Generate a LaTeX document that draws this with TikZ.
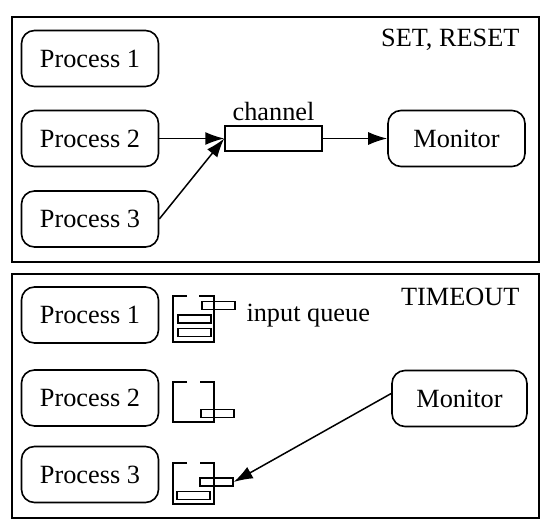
\documentclass[tikz,border=0pt]{standalone}
\usepackage{fontspec}
\setmainfont{Liberation Serif}
\usetikzlibrary{positioning,arrows.meta}

\tikzset{
  proc/.style={draw,line width=1.6pt,rounded corners=13pt,minimum width=137pt,minimum height=56pt,inner sep=0pt},
  qitem/.style={draw,line width=1.5pt,minimum width=33pt,minimum height=8pt,inner sep=0pt},
  flow/.style={line width=1.5pt,-{Latex[length=19pt,width=13pt]}}
}

\begin{document}
\begin{tikzpicture}[x=1pt,y=-1pt,font=\fontsize{26.3}{31}\selectfont]
\useasboundingbox (0,0) rectangle (550,527);
\draw[line width=1.8pt] (12,17) rectangle (539,262);
\draw[line width=1.8pt] (12,274) rectangle (539,518);

% SET, RESET
\node[anchor=east] at (523,40) {SET, RESET};
\node[proc] (p1) at (90,58.5) {Process 1};
\node[proc] (p2) at (90,138.5) {Process 2};
\node[proc] (p3) at (90,219) {Process 3};
\node[draw,line width=1.5pt,minimum width=97pt,minimum height=25pt,inner sep=0pt] (chan) at (273.5,138.5) {};
\node[above=1pt of chan] {channel};
\node[proc] (mon) at (456.5,138.5) {Monitor};
\draw[flow] (p2) -- (chan.west);
\draw[flow] (p3.east) -- (chan.west);
\draw[flow] (chan) -- (mon);

% TIMEOUT
\node[anchor=east] at (523,297) {TIMEOUT};
\node[proc] (t1) at (90,315) {Process 1};
\node[proc] (t2) at (90,398) {Process 2};
\node[proc] (t3) at (90,474.5) {Process 3};
\node[proc,minimum width=135pt] (mon2) at (459.5,398.5) {Monitor};

\draw[line width=1.5pt] (187,296) -| (173,342) -| (214,296) -- (199,296);
\node[qitem] (q1a) at (218.5,305.5) {};
\node[qitem] (q1b) at (194.5,319) {};
\node[qitem] (q1c) at (194.5,332.5) {};
\node[anchor=west] at (243,316) {input queue};

\draw[line width=1.5pt] (187,382) -| (173,422) -| (214,382) -- (200,382);
\node[qitem] (q2a) at (217.5,413.5) {};

\draw[line width=1.5pt] (187,463) -| (173,504) -| (214,463) -- (200,463);
\node[qitem] (q3a) at (216.5,482) {};
\node[qitem] (q3b) at (193.5,495.5) {};
\draw[flow] ([yshift=5pt]mon2.west) -- (q3a.east);
\end{tikzpicture}
\end{document}
